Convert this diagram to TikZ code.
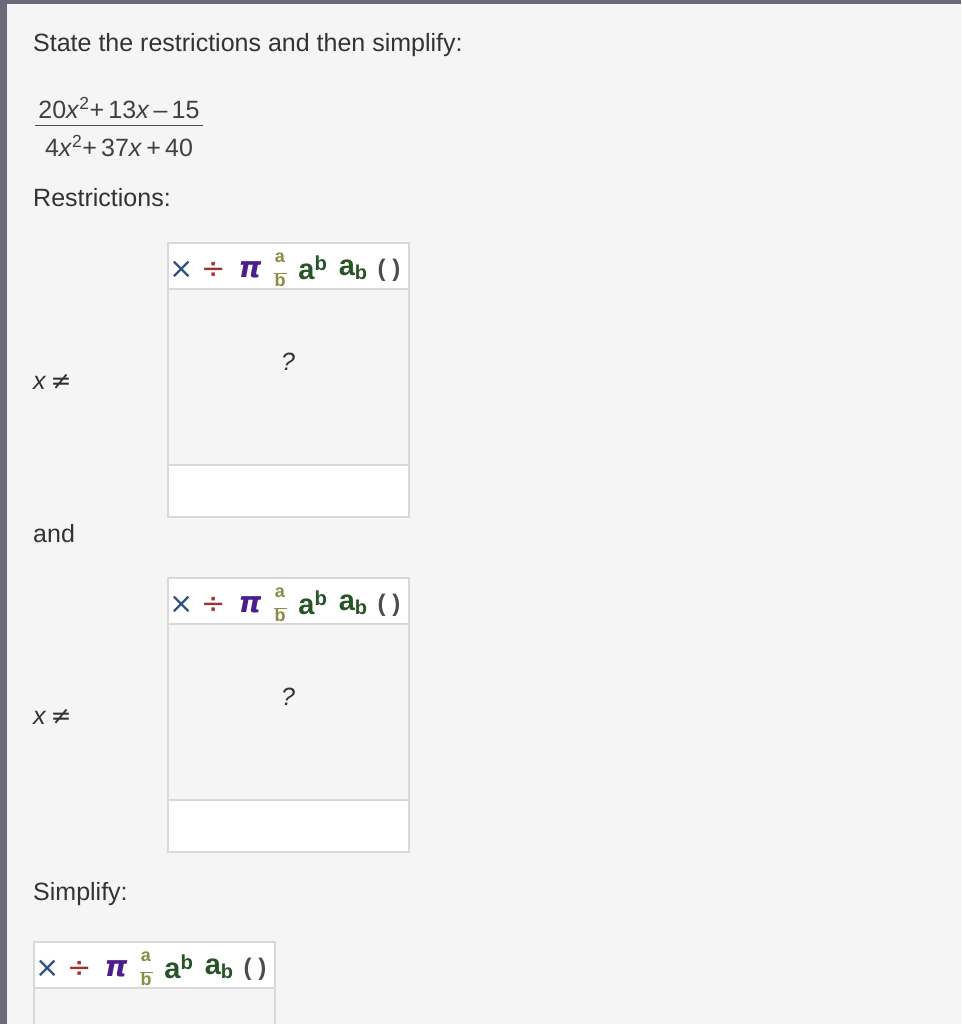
\documentclass[tikz,border=0pt]{standalone}
\usepackage{fontspec}
\setmainfont{Liberation Sans}
\newfontfamily\djv{DejaVu Sans}
\definecolor{frame}{RGB}{106,106,120}
\begin{document}
\begin{tikzpicture}[x=1pt,y=-1pt,
  txt/.style={anchor=west,inner sep=0,font=\fontsize{25}{30}\selectfont,text=black!80},
  tb/.style={inner sep=0,font=\fontsize{29}{32}\selectfont\bfseries},
  boxline/.style={draw=black!15,line width=1.2pt}]
\useasboundingbox (0,0) rectangle (961,1024);
\fill[black!4] (0,0) rectangle (961,1024);
\fill[frame] (0,0) rectangle (961,4);
\fill[frame] (0,0) rectangle (7,1024);
\node[txt] (t1) at (33,45) {State the restrictions and then simplify:};
\node[inner sep=0,font=\fontsize{25}{28}\selectfont,text=black!75] (num) at (119,108) {20\textit{x}\textsuperscript{2}+\,13\textit{x}\,--\,15};
\node[inner sep=0,font=\fontsize{25}{28}\selectfont,text=black!75] (den) at (119,146) {4\textit{x}\textsuperscript{2}+\,37\textit{x}\,+\,40};
\draw[black!70,line width=1pt] (35,126) -- (203,126);
\node[txt] (r) at (33,198) {Restrictions:};
\node[txt] (and) at (33,534) {and};
\node[txt] (s) at (33,894) {Simplify:};
\node[txt] (x1) at (33,382) {\textit{x}\,{\djv ≠}};
\node[txt] (x2) at (33,717) {\textit{x}\,{\djv ≠}};
\newcommand\mybox[3]{%
  \fill[white] (#1,#2) rectangle ++(241,46);
  \draw[boxline] (#1,#2) rectangle ++(241,#3);
  \draw[boxline] (#1,#2+46) -- ++(241,0);
  \node[tb,text={rgb,255:red,45;green,80;blue,125}] at (#1+14,#2+27) {\djv\mdseries ×};
  \node[tb,text={rgb,255:red,160;green,50;blue,50}] at (#1+46,#2+27) {\djv\mdseries ÷};
  \node[tb,text={rgb,255:red,75;green,30;blue,140}] at (#1+82,#2+27) {\djv\bfseries\itshape π};
  \node[inner sep=0,text={rgb,255:red,140;green,140;blue,70},font=\fontsize{18}{18}\selectfont\bfseries,align=center] at (#1+112,#2+27) {a\\[-7pt]\rule{13pt}{1.2pt}\\[-5pt]b};
  \node[tb,text={rgb,255:red,40;green,85;blue,40}] at (#1+145,#2+25) {a\textsuperscript{b}};
  \node[tb,text={rgb,255:red,40;green,85;blue,40}] at (#1+185,#2+27) {a\raisebox{-4pt}{\fontsize{20}{20}\selectfont b}};
  \node[tb,text=black!70,font=\fontsize{24}{24}\selectfont\bfseries] at (#1+221,#2+27) {( )};
}
\mybox{168}{243}{274}
\fill[white] (168,465) rectangle (409,517);
\draw[boxline] (168,465) -- (409,465);
\draw[boxline] (168,243) rectangle (409,517);
\node[txt,anchor=center,font=\fontsize{25}{30}\selectfont\itshape] (q1) at (288,362) {?};
\mybox{168}{578}{274}
\fill[white] (168,800) rectangle (409,852);
\draw[boxline] (168,800) -- (409,800);
\draw[boxline] (168,578) rectangle (409,852);
\node[txt,anchor=center,font=\fontsize{25}{30}\selectfont\itshape] (q2) at (288,697) {?};
\mybox{34}{942}{100}
\end{tikzpicture}
\end{document}
